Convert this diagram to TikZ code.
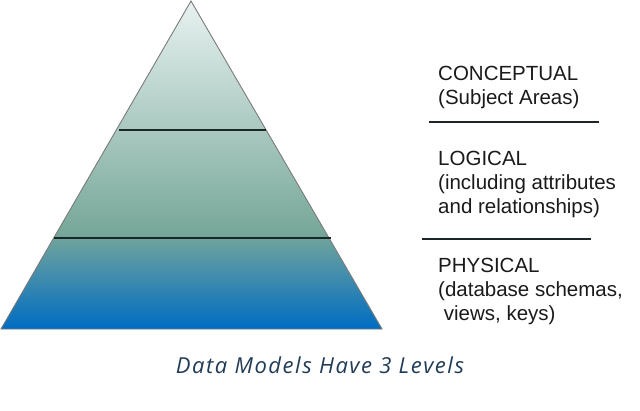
\documentclass[tikz,border=0pt]{standalone}
\usepackage{fontspec}
\setmainfont{Liberation Sans}
\newfontfamily\captionfont[LetterSpace=7]{Open Sans}
\usetikzlibrary{calc}
\definecolor{pyrtop}{HTML}{E8F2F0}
\definecolor{pyrmid}{HTML}{78A89A}
\definecolor{pyrbot}{HTML}{006CC2}
\definecolor{edgegray}{HTML}{7A7A7A}
\definecolor{rulecol}{HTML}{1C2626}
\definecolor{labelcol}{HTML}{1A1A1A}
\definecolor{captioncol}{HTML}{1F3B57}
\pgfdeclareverticalshading{pyramid}{100bp}{color(0bp)=(pyrbot); color(25bp)=(pyrbot); color(40bp)=(pyrmid); color(75bp)=(pyrtop); color(100bp)=(pyrtop)}
\begin{document}
\begin{tikzpicture}[x=1pt,y=-1pt]
    \tikzset{level/.style = {font=\fontsize{20.5}{24}\selectfont, text=labelcol, anchor=base west, inner sep=0pt}}
    \tikzset{divider/.style = {line width=2.8pt, draw=rulecol}}
    \useasboundingbox (0,0) rectangle (640,410);
    % pyramid
    \coordinate (apex) at (191,1);
    \coordinate (bl) at (1,329);
    \coordinate (br) at (382,329);
    \shade[shading=pyramid, draw=edgegray, line width=0.9pt] (apex) -- (br) -- (bl) -- cycle;
    \coordinate (a1) at ($(apex)!0.393!(bl)+(3,0)$);
    \coordinate (b1) at ($(apex)!0.393!(br)$);
    \coordinate (a2) at ($(apex)!0.7226!(bl)$);
    \coordinate (b2) at ($(apex)!0.7226!(br)+(2,0)$);
    \draw[divider] (a1) -- (b1);
    \draw[divider] (a2) -- (b2);
    % labels
    \node[level] (concept) at (438,80) {CONCEPTUAL};
    \node[level] (conceptsub) at (438,104) {(Subject Areas)};
    \node[level] (logic) at (438,165) {LOGICAL};
    \node[level] (logicsub) at (438,189) {(including attributes};
    \node[level] (logicsub2) at (438,213) {and relationships)};
    \node[level] (phys) at (438,272) {PHYSICAL};
    \node[level] (physsub) at (438,296) {(database schemas,};
    \node[level] (physsub2) at (438,320) {\ views, keys)};
    \coordinate (r1a) at (429,122);
    \coordinate (r1b) at (599,122);
    \coordinate (r2a) at (422,239);
    \coordinate (r2b) at (591,239);
    \draw[divider] (r1a) -- (r1b);
    \draw[divider] (r2a) -- (r2b);
    \node[anchor=base, inner sep=0pt, text=captioncol, font=\captionfont\itshape\fontsize{22}{24}\selectfont] (title) at (320,373) {Data Models Have 3 Levels};
\end{tikzpicture}
\end{document}
